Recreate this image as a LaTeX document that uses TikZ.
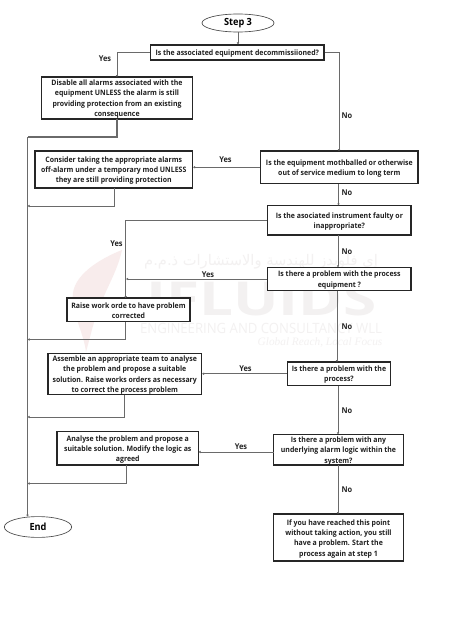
\documentclass[tikz,border=0pt]{standalone}
\usepackage{fontspec}
\setmainfont{Open Sans}[FakeStretch=0.93]
\newfontfamily\arabicfont[Script=Arabic]{DejaVu Sans}
\newfontfamily\serifmark{Liberation Serif}
\newfontfamily\wmfont{Open Sans}[FakeStretch=1.29]
\TeXXeTstate=1
\usetikzlibrary{arrows.meta,shapes.geometric}
\definecolor{wm}{HTML}{F3F1F1}
\definecolor{wmr}{HTML}{F8ECEC}
\definecolor{ln}{HTML}{6A6A6A}
\tikzset{
  x=0.75pt,y=-0.75pt,
  txt/.style={font=\fontsize{5.6}{7.7}\selectfont\bfseries,text=black!88,align=center,inner sep=0pt},
  term/.style={draw=black!70,line width=0.5pt,ellipse,fill=white,font=\fontsize{7.4}{9}\selectfont\bfseries,inner sep=0pt},
  con/.style={draw=ln,line width=0.7pt,-{Latex[length=1.5pt,width=2pt]}},
  lab/.style={font=\fontsize{6}{8}\selectfont\bfseries,text=black!85,inner sep=0pt}
}
\newcommand{\bx}[6]{% name x1 y1 x2 y2 text
  \node[draw=black!85,line width=0.8pt,fill=white,txt,inner sep=0pt,
    minimum width={(#4-#2)*0.75pt},minimum height={(#5-#3)*0.75pt}] (#1) at ({(#2+#4)/2},{(#3+#5)/2}) {\rule{0pt}{6pt}#6};
}
\begin{document}
\begin{tikzpicture}
\useasboundingbox (0,0) rectangle (474,632);
\fill[white] (0,0) rectangle (474,632);
% watermark
\fill[wmr] (122,250) .. controls (92,262) and (70,280) .. (73,300) .. controls (75,320) and (84,335) .. (86,352) .. controls (92,330) and (95,315) .. (104,296) .. controls (110,282) and (118,268) .. (122,250) -- cycle;
\node[text=wm,font=\wmfont\fontsize{35}{35}\selectfont\bfseries,inner sep=0pt] (wmA) at (261.5,299) {IFLUIDS};
\node[text=wm,font=\fontsize{10.6}{12}\selectfont,inner sep=0pt] (wmB) at (261,328) {ENGINEERING AND CONSULTANCY WLL};
\node[text=wm,font=\serifmark\itshape\fontsize{8.5}{10}\selectfont,inner sep=0pt] (wmC) at (320,342) {Global Reach, Local Focus};
\node[text=wm,font=\arabicfont\fontsize{11}{12}\selectfont,inner sep=0pt] (wmD) at (261,262) {\beginR إي فلويدز للهندسة والاستشارات ذ.م.م\endR};
% terminals
\node[term,minimum width=54pt,minimum height=13.5pt] (start) at (238,23) {Step 3};
\node[term,minimum width=50.5pt,minimum height=15.6pt] (endn) at (38,527) {End};
% boxes
\bx{q1}{150.5}{45}{324}{60}{Is the associated equipment decommissiioned?}
\bx{dis}{41.5}{77}{192.5}{119}{Disable all alarms associated with the\\equipment UNLESS the alarm is still\\providing protection from an existing\\consequence}
\bx{con1}{35}{151}{192.5}{188}{Consider taking the appropriate alarms\\off-alarm under a temporary mod UNLESS\\they are still providing protection}
\bx{moth}{260.7}{151}{418}{183.5}{Is the equipment mothballed or otherwise\\out of service medium to long term}
\bx{faul}{267.7}{205.5}{411}{235}{Is the asociated instrument faulty or\\inappropriate?}
\bx{equip}{267.7}{267.3}{411}{290.7}{Is there a problem with the process\\equipment ?}
\bx{raise}{67}{298}{190}{321.5}{Raise work orde to have problem\\corrected}
\bx{team}{48}{353.5}{201.5}{394.5}{Assemble an appropriate team to analyse\\the problem and propose a suitable\\solution. Raise works orders as necessary\\to correct the process problem}
\bx{proc}{287.3}{362}{390.7}{385.5}{Is there a problem with the\\process?}
\bx{ana}{57}{431.7}{198.5}{465}{Analyse the problem and propose a\\suitable solution. Modify the logic as\\agreed}
\bx{logic}{273.7}{434.3}{403.3}{465}{Is there a problem with any\\underlying alarm logic within the\\system?}
\bx{last}{273.7}{514}{403.3}{561}{If you have reached this point\\without taking action, you still\\have a problem. Start the\\process again at step 1}
% free coordinates
\coordinate (j1) at (27.5,137);
\coordinate (j2) at (27.5,206);
\coordinate (j3) at (27.5,339.5);
\coordinate (j4) at (27.5,417);
\coordinate (j5) at (27.5,483.5);
\coordinate (j6) at (126,279);
% connectors
\draw[con] (start.south) -- (q1.north -| start.south);
\draw[con] (q1.west) -| (117,77);
\draw[con] (q1.east) -| (339,151);
\draw[con] (moth.west) -- (con1.east |- moth.west);
\draw[con] (338.5,183.5) -- (338.5,205.5);
\draw[con] (338,235) -- (338,267.3);
\draw[con] (337,290.7) -- (337,362);
\draw[con] (338,385.5) -- (338,434.3);
\draw[con] (338,465) -- (338,514);
\draw[con] (faul.west) -| (125.7,298);
\draw[con] (equip.west) -- (j6);
\draw[con] (proc.west) -- (team.east |- proc.west);
\draw[con] (273.7,452) -- (198.5,452);
\draw[ln,line width=0.8pt] (117,119) |- (j1);
\draw[con] (114,188) |- (j2);
\draw[con] (125.7,321.5) |- (j3);
\draw[con] (124.5,394.5) |- (j4);
\draw[con] (126,465) |- (j5);
\draw[con,line width=0.9pt] (j1) -- (27.5,516.7);
% labels
\node[lab] (ly1) at (105,58.5) {Yes};
\node[lab] (ln1) at (347,116) {No};
\node[lab] (ly2) at (225.5,159.5) {Yes};
\node[lab] (ln2) at (347,193) {No};
\node[lab] (ly3) at (116.5,244) {Yes};
\node[lab] (ly4) at (208,274.5) {Yes};
\node[lab] (ln3) at (347,251.5) {No};
\node[lab] (ln4) at (347,326.5) {No};
\node[lab] (ly5) at (245.5,369) {Yes};
\node[lab] (ln5) at (347,410.5) {No};
\node[lab] (ly6) at (241,447) {Yes};
\node[lab] (ln6) at (347,490) {No};
\end{tikzpicture}
\end{document}
